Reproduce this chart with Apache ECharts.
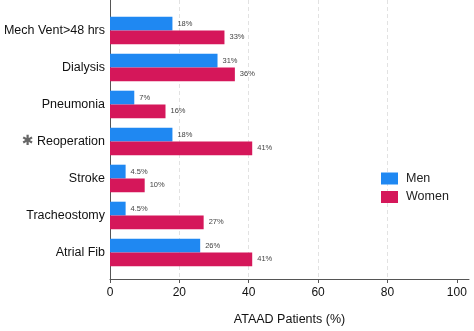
<!DOCTYPE html>
<html>
<head>
<meta charset="utf-8">
<script src="https://cdn.jsdelivr.net/npm/echarts@6/dist/echarts.min.js"></script>
<style>
  html, body { margin: 0; padding: 0; background: #fff; }
  #chart { width: 474px; height: 331px; }
</style>
</head>
<body>
<div id="chart"></div>
<script>
// Postoperative complications in ATAAD patients, by sex (%)
const categories = ['Mech Vent>48 hrs', 'Dialysis', 'Pneumonia', 'Reoperation', 'Stroke', 'Tracheostomy', 'Atrial Fib'];
const menValues = [18, 31, 7, 18, 4.5, 4.5, 26];
const womenValues = [33, 36, 16, 41, 10, 27, 41];
const xTicks = [0, 20, 40, 60, 80, 100];
// Outcomes with a significant difference get a leading asterisk
const significant = ['Reoperation'];

const MEN = '#1F88F2';
const WOMEN = '#D5175A';
const FONT = 'Liberation Sans, Arial, Helvetica, sans-serif';
const X_MAX = 103.5;

const chart = echarts.init(document.getElementById('chart'), null, { renderer: 'canvas' });

const valueLabel = {
  show: true,
  position: 'right',
  distance: 5,
  fontSize: 7.5,
  fontFamily: FONT,
  color: '#444',
  formatter: p => p.value + '%'
};

chart.setOption({
  animation: false,
  backgroundColor: '#fff',
  grid: [
    // frame: x axis, gridlines and the vertical axis line
    { left: 110, top: 0, width: 359, height: 281 },
    // bars
    { left: 110, top: 12, width: 359, height: 259 }
  ],
  xAxis: [
    {
      gridIndex: 0, type: 'value', min: 0, max: X_MAX, interval: 20,
      name: 'ATAAD Patients (%)', nameLocation: 'middle', nameGap: 34,
      nameTextStyle: { fontSize: 12.5, fontFamily: FONT, color: '#111' },
      axisLine: { show: true, lineStyle: { color: '#555', width: 1 } },
      axisTick: { show: true, length: 4, customValues: xTicks, lineStyle: { color: '#555' } },
      axisLabel: { customValues: xTicks, margin: 8, fontSize: 12, fontFamily: FONT, color: '#111' },
      splitLine: {
        show: true, showMinLine: false, showMaxLine: false,
        lineStyle: { color: '#e2e2e2', type: [4, 3], width: 1 }
      }
    },
    {
      gridIndex: 1, type: 'value', min: 0, max: X_MAX, show: false
    }
  ],
  yAxis: [
    {
      gridIndex: 0, type: 'value', min: 0, max: 1,
      axisLine: { show: true, lineStyle: { color: '#555', width: 1 } },
      axisTick: { show: false }, axisLabel: { show: false }, splitLine: { show: false }
    },
    {
      gridIndex: 1, type: 'category', data: categories, inverse: true,
      axisLine: { show: false }, axisTick: { show: false },
      axisLabel: {
        margin: 5, fontSize: 12.5, fontFamily: FONT, color: '#111',
        formatter: v => significant.includes(v) ? '{star|\u2731} ' + v : v,
        rich: {
          star: { fontFamily: 'DejaVu Sans', fontSize: 14, color: '#666' }
        }
      }
    }
  ],
  legend: {
    orient: 'vertical', left: 376, top: 167,
    itemWidth: 17, itemHeight: 12, itemGap: 5.5, icon: 'rect',
    textStyle: { fontSize: 12.5, fontFamily: FONT, color: '#222', padding: [0, 0, 0, 3] },
    data: ['Men', 'Women']
  },
  series: [
    {
      name: 'Men', type: 'bar', xAxisIndex: 1, yAxisIndex: 1,
      data: menValues, barWidth: 13.8, barGap: '0%',
      itemStyle: { color: MEN }, label: valueLabel
    },
    {
      name: 'Women', type: 'bar', xAxisIndex: 1, yAxisIndex: 1,
      data: womenValues, barWidth: 13.8, barGap: '0%',
      itemStyle: { color: WOMEN }, label: valueLabel
    }
  ]
});
</script>
</body>
</html>
